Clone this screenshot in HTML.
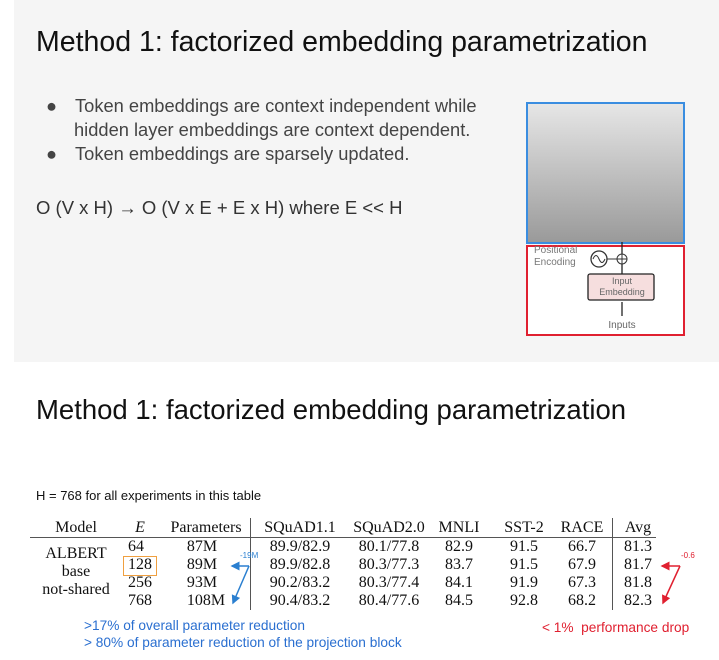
<!DOCTYPE html>
<html><head><style>
body{margin:0;width:719px;height:660px;background:#fff;position:relative;overflow:hidden;font-family:"Liberation Sans",sans-serif}
.a{position:absolute;white-space:nowrap}
.s{font-family:"Liberation Serif",serif;font-size:16px;color:#111}
.c{transform:translateX(-50%)}
</style></head><body>
<div class="a" style="left:14px;top:0;width:705px;height:362px;background:#f5f5f5"></div>
<div class="a" style="left:36px;top:26px;font-size:28.5px;color:#111">Method 1: factorized embedding parametrization</div>
<div class="a" style="left:46px;top:94px;font-size:18.3px;color:#444;line-height:24px">
<div>●<span style="padding-left:18px">Token embeddings are context independent while</span></div>
<div style="padding-left:28px">hidden layer embeddings are context dependent.</div>
<div>●<span style="padding-left:18px">Token embeddings are sparsely updated.</span></div></div>
<div class="a" style="left:36px;top:197px;font-size:18.5px;color:#333">O (V x H) → O (V x E + E x H) where E &lt;&lt; H</div>
<div class="a" style="left:526px;top:102px;width:155px;height:138px;border:2px solid #3a8de0;background:linear-gradient(#e6e6e6,#9a9a9a)"></div>
<div class="a" style="left:526px;top:245px;width:155px;height:87px;border:2px solid #e02030;background:#fff"></div>
<div class="a" style="left:534px;top:245px;font-size:10px;color:#777;line-height:12px">Positional<br>Encoding</div>
<svg class="a" style="left:526px;top:240px" width="160" height="95">
<line x1="96" y1="2" x2="96" y2="34" stroke="#222" stroke-width="1.3"/>
<circle cx="96" cy="19" r="5" fill="#fff" stroke="#333"/><line x1="91" y1="19" x2="101" y2="19" stroke="#333"/><line x1="96" y1="14" x2="96" y2="24" stroke="#333"/>
<circle cx="73" cy="19" r="8" fill="#fff" stroke="#333" stroke-width="1.3"/><path d="M67 19 q3 -7 6 0 t6 0" fill="none" stroke="#333"/>
<line x1="81" y1="19" x2="91" y2="19" stroke="#333"/>
<rect x="62" y="34" width="66" height="26" rx="2" fill="#f6dede" stroke="#222" stroke-width="1.3"/>
<line x1="96" y1="76" x2="96" y2="62" stroke="#222" stroke-width="1.3"/>
</svg>
<div class="a c" style="left:622px;top:276px;font-size:9px;color:#666;text-align:center;line-height:11px">Input<br>Embedding</div>
<div class="a c" style="left:622px;top:320px;font-size:10px;color:#666">Inputs</div>
<div class="a" style="left:36px;top:394px;font-size:27.5px;color:#111">Method 1: factorized embedding parametrization</div>
<div class="a" style="left:36px;top:488px;font-size:13px;color:#111">H = 768 for all experiments in this table</div>
<div class="a" style="left:30px;top:537px;width:626px;height:1px;background:#555"></div>
<div class="a" style="left:250px;top:518px;width:1px;height:92px;background:#555"></div>
<div class="a" style="left:612px;top:518px;width:1px;height:92px;background:#555"></div>
<div class="a s c" style="left:76px;top:519px">Model</div>
<div class="a s c" style="left:140px;top:519px;font-style:italic">E</div>
<div class="a s c" style="left:206px;top:519px">Parameters</div>
<div class="a s c" style="left:300px;top:519px">SQuAD1.1</div>
<div class="a s c" style="left:389px;top:519px">SQuAD2.0</div>
<div class="a s c" style="left:459px;top:519px">MNLI</div>
<div class="a s c" style="left:524px;top:519px">SST-2</div>
<div class="a s c" style="left:582px;top:519px">RACE</div>
<div class="a s c" style="left:638px;top:519px">Avg</div>
<div class="a s c" style="left:76px;top:545px;line-height:18px;text-align:center">ALBERT<br>base<br>not-shared</div>
<div class="a" style="left:123px;top:556px;width:32px;height:18px;border:1.5px solid #f0a040"></div>
<div class="a s" style="left:0;top:538px;width:719px;line-height:18px">
<div class="a c" style="left:140px">64<br>128<br>256<br>768</div>
<div class="a c" style="left:206px">87M<br>89M<br>93M<br>108M</div>
<div class="a c" style="left:300px">89.9/82.9<br>89.9/82.8<br>90.2/83.2<br>90.4/83.2</div>
<div class="a c" style="left:389px">80.1/77.8<br>80.3/77.3<br>80.3/77.4<br>80.4/77.6</div>
<div class="a c" style="left:459px">82.9<br>83.7<br>84.1<br>84.5</div>
<div class="a c" style="left:524px">91.5<br>91.5<br>91.9<br>92.8</div>
<div class="a c" style="left:582px">66.7<br>67.9<br>67.3<br>68.2</div>
<div class="a c" style="left:638px">81.3<br>81.7<br>81.8<br>82.3</div>
</div>
<svg class="a" style="left:0;top:0" width="719" height="660">
<defs><marker id="b" markerWidth="6" markerHeight="6" refX="5" refY="3" orient="auto"><path d="M0,0 L6,3 L0,6z" fill="#2a7fd0"/></marker>
<marker id="r" markerWidth="6" markerHeight="6" refX="5" refY="3" orient="auto"><path d="M0,0 L6,3 L0,6z" fill="#e02030"/></marker></defs>
<polyline points="249,566 232,566" stroke="#2a7fd0" stroke-width="1.5" fill="none" marker-end="url(#b)"/>
<line x1="249" y1="566" x2="233" y2="603" stroke="#2a7fd0" stroke-width="1.5" marker-end="url(#b)"/>
<line x1="680" y1="566" x2="662" y2="566" stroke="#e02030" stroke-width="1.5" marker-end="url(#r)"/>
<line x1="680" y1="566" x2="663" y2="603" stroke="#e02030" stroke-width="1.5" marker-end="url(#r)"/>
</svg>
<div class="a" style="left:240px;top:551px;font-size:8px;color:#2a7fd0">-19M</div>
<div class="a" style="left:681px;top:551px;font-size:8px;color:#e02030">-0.6</div>
<div class="a" style="left:84px;top:617px;font-size:13.7px;color:#2a6fd0;line-height:17px">&gt;17% of overall parameter reduction<br>&gt; 80% of parameter reduction of the projection block</div>
<div class="a" style="left:542px;top:620px;font-size:13.7px;color:#e02030">&lt; 1%&nbsp; performance drop</div>
</body></html>
